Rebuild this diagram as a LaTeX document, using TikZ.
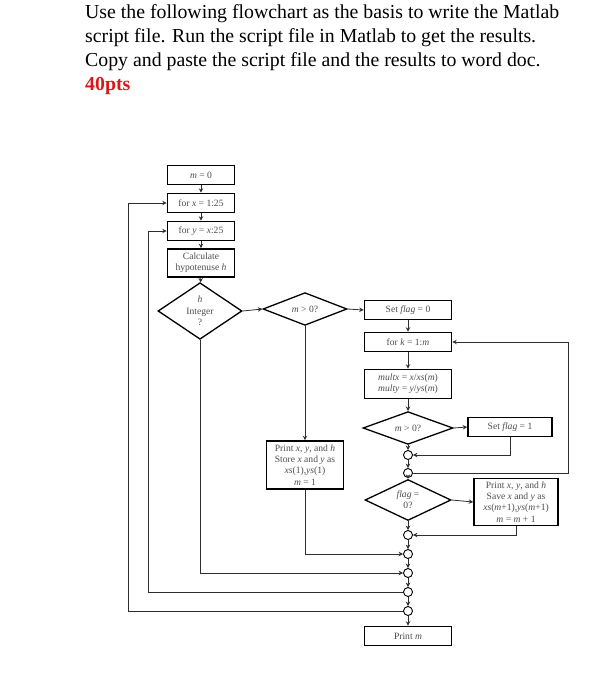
\documentclass[tikz,border=0pt]{standalone}
\usepackage{fontspec}
\newfontfamily\headfont{Liberation Serif}
\usepackage{tikz}
\usetikzlibrary{arrows.meta,positioning,shapes.geometric}
\definecolor{fcInk}{HTML}{2E2E2E}
\definecolor{fcText}{HTML}{4E4E4E}
\definecolor{fcRed}{HTML}{D7191C}
\newcommand{\vr}[1]{\textit{#1}}

\tikzset{
  stepbox/.style={draw=black,line width=1.6pt,fill=white,text=fcText,
    align=center,minimum width=67pt,minimum height=19pt,inner sep=1pt,
    font=\headfont\fontsize{9.6}{11.3}\selectfont},
  widebox/.style={stepbox,minimum width=87pt},
  testbox/.style={diamond,draw=black,line width=1.3pt,fill=white,
    text=fcText,align=center,inner sep=0pt,minimum width=84pt,
    minimum height=30pt,font=\headfont\fontsize{9.6}{11.3}\selectfont},
  joint/.style={circle,draw=black,line width=0.9pt,minimum size=9pt,
    inner sep=0pt},
  flow/.style={draw=fcInk,line width=0.8pt,
    -{Stealth[length=4.5pt,width=4.5pt,inset=1.5pt]}},
  wire/.style={draw=fcInk,line width=0.8pt}
}

\begin{document}
\begin{tikzpicture}[x=1pt,y=-1pt]
  \useasboundingbox (0,0) rectangle (597,700);

  \node[anchor=north west,inner sep=0pt,align=left,
    font=\headfont\fontsize{19.8}{24}\selectfont] (task) at (85,4) {
    Use the following flowchart as the basis to write the Matlab\\
    script file. Run the script file in Matlab to get the results.\\
    Copy and paste the script file and the results to word doc.\\
    {\color{fcRed}\bfseries 40pts}
  };

  \node[stepbox] (mzero) at (201,175) {\vr{m} = 0};
  \node[stepbox] (forx) at (201,203) {for \vr{x} = 1:25};
  \node[stepbox] (fory) at (201,231) {for \vr{y} = \vr{x}:25};
  \node[stepbox,minimum height=28pt] (calc) at (201,263)
    {Calculate\\hypotenuse \vr{h}};
  \node[testbox,minimum height=38pt] (isint) at (200,311)
    {\vr{h}\\Integer\\?};
  \node[testbox,minimum height=29pt] (mpos) at (305,309) {\vr{m} > 0?};
  \node[widebox] (flagzero) at (408,310) {Set \vr{flag} = 0};
  \node[widebox] (fork) at (408,342) {for \vr{k} = 1:\vr{m}};
  \node[widebox,minimum height=29pt] (mult) at (408,384)
    {\vr{multx} = \vr{x}/\vr{xs}(\vr{m})\\\vr{multy} = \vr{y}/\vr{ys}(\vr{m})};
  \node[testbox,minimum width=90pt] (mpostwo) at (408,428) {\vr{m} > 0?};
  \node[stepbox,minimum width=84pt] (flagone) at (510,427)
    {Set \vr{flag} = 1};
  \node[stepbox,minimum width=77pt,minimum height=48pt] (printone)
    at (305,465) {Print \vr{x}, \vr{y}, and \vr{h}\\Store \vr{x} and \vr{y} as\\
    \vr{xs}(1),\vr{ys}(1)\\\vr{m} = 1};
  \node[testbox,minimum width=86pt,minimum height=36pt] (flagq)
    at (408,500) {\vr{flag} =\\0?};
  \node[stepbox,minimum width=84pt,minimum height=47pt] (printtwo)
    at (516,502) {Print \vr{x}, \vr{y}, and \vr{h}\\Save \vr{x} and \vr{y} as\\
    \vr{xs}(\vr{m}+1),\vr{ys}(\vr{m}+1)\\\vr{m} = \vr{m} + 1};
  \node[widebox] (printm) at (408,636) {Print \vr{m}};

  \node[joint] (j1) at (408,455) {};
  \node[joint] (j2) at (408,473) {};
  \node[joint] (j3) at (408,535) {};
  \node[joint] (j4) at (408,554) {};
  \node[joint] (j5) at (408,573) {};
  \node[joint] (j6) at (408,592) {};
  \node[joint] (j7) at (408,611) {};

  \coordinate (kret) at (568,342);
  \coordinate (yret) at (148,231);
  \coordinate (xret) at (128,203);

  \draw[flow] (mzero) -- (forx);
  \draw[flow] (forx) -- (fory);
  \draw[flow] (fory) -- (calc);
  \draw[flow] (calc) -- (isint);
  \draw[flow] (isint.east) -- (mpos.west);
  \draw[flow] (mpos.east) -- (flagzero.west);
  \draw[flow] (mpos.south) -- (printone.north);
  \draw[flow] (flagzero) -- (fork);
  \draw[flow] (fork) -- (mult);
  \draw[flow] (mult) -- (mpostwo);
  \draw[flow] (mpostwo.east) -- (flagone.west);
  \draw[flow] (mpostwo.south) -- (j1);
  \draw[flow] (flagone.south) |- (j1.east);
  \draw[flow] (j1) -- (j2);
  \draw[flow] (j2.east) -| (kret) -- (fork.east);
  \draw[flow] (j2) -- (flagq.north);
  \draw[flow] (flagq.east) -- (printtwo.west);
  \draw[flow] (flagq.south) -- (j3);
  \draw[flow] (printtwo.south) |- (j3.east);
  \draw[flow] (j3) -- (j4);
  \draw[flow] (printone.south) |- (j4.west);
  \draw[flow] (j4) -- (j5);
  \draw[flow] (isint.south) |- (j5.west);
  \draw[flow] (j5) -- (j6);
  \draw[flow] (j6.west) -| (yret) -- (fory.west);
  \draw[flow] (j6) -- (j7);
  \draw[flow] (j7.west) -| (xret) -- (forx.west);
  \draw[flow] (j7) -- (printm);
\end{tikzpicture}
\end{document}
